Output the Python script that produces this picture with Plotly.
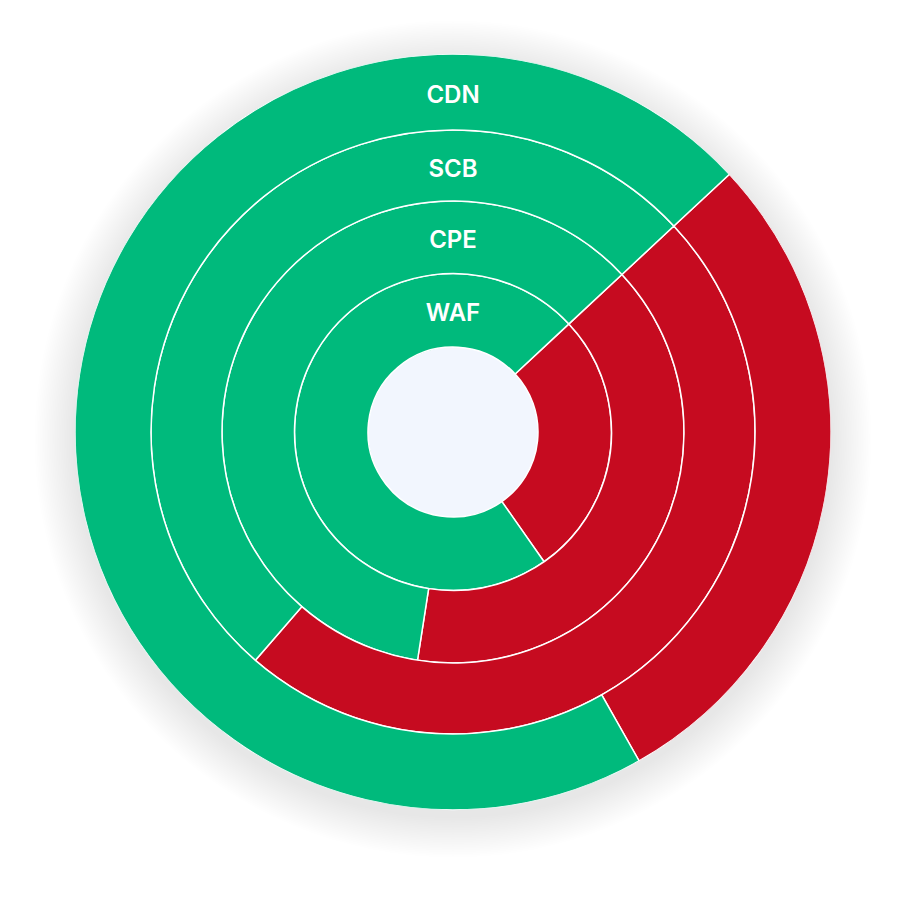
import plotly.graph_objects as go

# Data
rings = ["WAF", "CPE", "SCB", "CDN"]
red_pct = [27.2, 39.4, 48.3, 28.75]
green_pct = [100 - v for v in red_pct]

# Layout / style
ring_edges = [85, 158.5, 231, 302, 378]
START = 47.0
GREEN = "#00ba7c"
RED = "#c60b20"
CENTER_BG = "#f2f6fe"
W, H = 905, 904
PAGE_OFF = 8  # html body margin
CX, CY, R = 453 - PAGE_OFF, 432 - PAGE_OFF, 378

fig = go.Figure()

for i, name in enumerate(rings):
    base = ring_edges[i]
    thick = ring_edges[i + 1] - ring_edges[i]
    rw = red_pct[i] * 3.6
    gw = green_pct[i] * 3.6
    fig.add_trace(go.Barpolar(
        r=[thick, thick], base=[base, base],
        theta=[START + rw / 2, START + rw + gw / 2],
        width=[rw, gw],
        marker=dict(color=[RED, GREEN], line=dict(color="white", width=1.5)),
        showlegend=False, hoverinfo="skip",
    ))

label_r = [(ring_edges[i] + ring_edges[i + 1]) / 2 - 5 for i in range(len(rings))]
fig.add_trace(go.Scatterpolar(
    r=label_r, theta=[0] * len(rings), mode="text", text=rings,
    textfont=dict(color="white", size=24, family="Inter", weight=600),
    showlegend=False, hoverinfo="skip",
))

# shadow
shapes = []
n = 24
for k in range(n):
    rr = R + 1.7 * (n - k)
    oy = CY + 7
    shapes.append(dict(
        type="circle", xref="paper", yref="paper", layer="below",
        x0=(CX - rr) / W, x1=(CX + rr) / W,
        y0=(H - oy - rr) / H, y1=(H - oy + rr) / H,
        fillcolor="rgba(0,0,0,0.0042)", line=dict(width=0),
    ))

fig.update_layout(
    width=W, height=H,
    margin=dict(l=0, r=0, t=0, b=0),
    paper_bgcolor="white", plot_bgcolor="white",
    shapes=shapes,
    barmode="overlay",
    polar=dict(
        domain=dict(x=[(CX - R) / W, (CX + R) / W], y=[(H - CY - R) / H, (H - CY + R) / H]),
        bgcolor=CENTER_BG,
        hole=0,
        radialaxis=dict(range=[0, R], visible=False, showgrid=False),
        angularaxis=dict(direction="clockwise", rotation=90, visible=False, showgrid=False),
        barmode="overlay",
    ),
)

fig.write_html("out.html")
